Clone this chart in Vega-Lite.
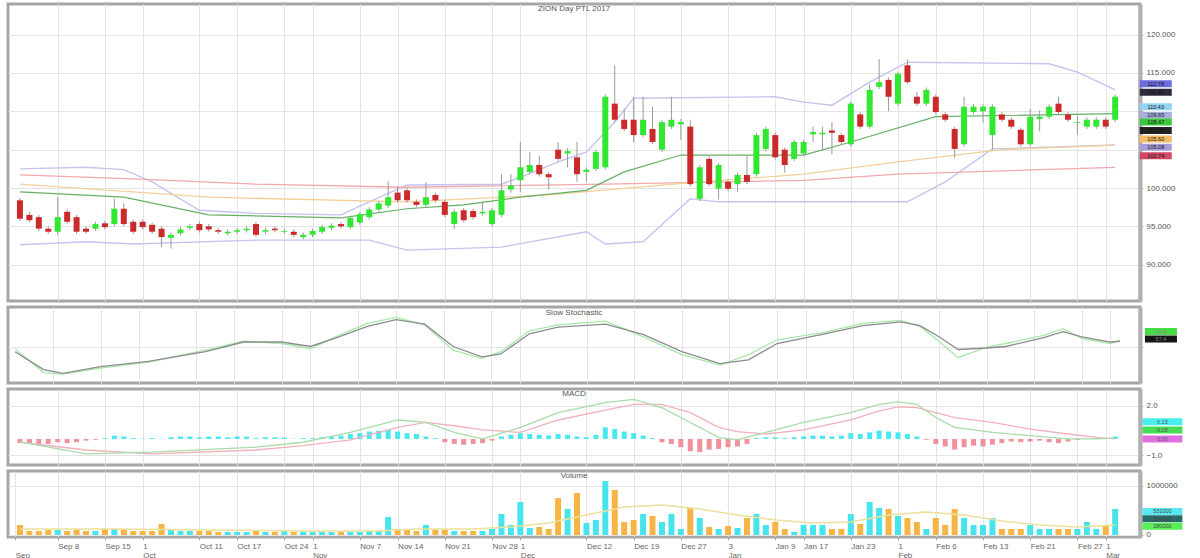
{
"$schema":"https://vega.github.io/schema/vega-lite/v6.json",
"padding":{"left":6,"top":2,"right":2,"bottom":0},
"background":"white",
"spacing":6,
"bounds":"flush",
"resolve":{"scale":{"color":"independent"}},
"config":{"font":"Liberation Sans","view":{"stroke":"#a6a6a6","strokeWidth":3}},
"datasets":{
"k":[
{"i":0,"o":98.4,"h":98.7,"l":95.7,"c":96.0,"v":204000,"mh":-0.25},
{"i":1,"o":96.5,"h":96.9,"l":95.5,"c":95.8,"v":82000,"mh":-0.3},
{"i":2,"o":96.2,"h":96.5,"l":94.4,"c":94.7,"v":82000,"mh":-0.3},
{"i":3,"o":94.7,"h":95.0,"l":94.0,"c":94.3,"v":102000,"mh":-0.3},
{"i":4,"o":94.3,"h":98.8,"l":93.9,"c":96.2,"v":102000,"mh":-0.2},
{"i":5,"o":96.9,"h":97.2,"l":95.3,"c":95.6,"v":82000,"mh":-0.25},
{"i":6,"o":96.2,"h":96.5,"l":94.0,"c":94.3,"v":102000,"mh":-0.2},
{"i":7,"o":94.7,"h":95.0,"l":94.0,"c":94.3,"v":82000,"mh":-0.1},
{"i":8,"o":94.7,"h":95.6,"l":94.4,"c":95.3,"v":82000,"mh":-0.05},
{"i":9,"o":95.4,"h":95.7,"l":94.6,"c":94.9,"v":122000,"mh":0.05},
{"i":10,"o":95.3,"h":98.6,"l":95.0,"c":97.3,"v":122000,"mh":0.2},
{"i":11,"o":97.3,"h":98.0,"l":95.0,"c":95.3,"v":102000,"mh":0.15},
{"i":12,"o":95.6,"h":95.9,"l":94.0,"c":94.3,"v":82000,"mh":0.05},
{"i":13,"o":95.6,"h":95.9,"l":94.6,"c":94.9,"v":82000,"mh":0.02},
{"i":14,"o":95.2,"h":95.5,"l":94.0,"c":94.3,"v":82000,"mh":0.05},
{"i":15,"o":94.7,"h":95.0,"l":92.3,"c":93.6,"v":224000,"mh":0.02},
{"i":16,"o":93.5,"h":94.2,"l":92.1,"c":93.9,"v":102000,"mh":0.1},
{"i":17,"o":94.1,"h":94.9,"l":93.8,"c":94.6,"v":82000,"mh":0.15},
{"i":18,"o":94.8,"h":95.3,"l":94.5,"c":95.0,"v":82000,"mh":0.15},
{"i":19,"o":95.3,"h":95.6,"l":94.2,"c":94.5,"v":82000,"mh":0.1},
{"i":20,"o":95.0,"h":95.3,"l":94.3,"c":94.6,"v":82000,"mh":0.15},
{"i":21,"o":94.5,"h":94.8,"l":94.0,"c":94.3,"v":61000,"mh":0.15},
{"i":22,"o":94.1,"h":94.6,"l":93.8,"c":94.3,"v":61000,"mh":0.1},
{"i":23,"o":94.3,"h":94.8,"l":94.0,"c":94.5,"v":61000,"mh":0.15},
{"i":24,"o":94.5,"h":95.0,"l":94.2,"c":94.7,"v":61000,"mh":0.15},
{"i":25,"o":95.3,"h":95.6,"l":93.6,"c":93.9,"v":82000,"mh":0.05},
{"i":26,"o":94.3,"h":94.8,"l":94.0,"c":94.5,"v":61000,"mh":0.1},
{"i":27,"o":94.7,"h":95.0,"l":94.2,"c":94.5,"v":61000,"mh":0.1},
{"i":28,"o":94.3,"h":94.7,"l":94.0,"c":94.4,"v":102000,"mh":0.08},
{"i":29,"o":94.3,"h":94.6,"l":93.6,"c":93.9,"v":61000,"mh":0.02},
{"i":30,"o":93.6,"h":94.2,"l":93.3,"c":93.9,"v":61000,"mh":0.05},
{"i":31,"o":93.9,"h":94.7,"l":93.6,"c":94.4,"v":61000,"mh":0.05},
{"i":32,"o":94.3,"h":95.2,"l":94.0,"c":94.9,"v":61000,"mh":0.1},
{"i":33,"o":94.8,"h":95.4,"l":94.5,"c":95.1,"v":61000,"mh":0.15},
{"i":34,"o":95.3,"h":95.6,"l":94.7,"c":95.0,"v":61000,"mh":0.2},
{"i":35,"o":94.9,"h":96.4,"l":94.6,"c":96.1,"v":61000,"mh":0.3},
{"i":36,"o":95.5,"h":96.9,"l":95.2,"c":96.6,"v":61000,"mh":0.35},
{"i":37,"o":96.2,"h":97.5,"l":95.9,"c":97.2,"v":82000,"mh":0.45},
{"i":38,"o":97.2,"h":98.3,"l":96.9,"c":98.0,"v":82000,"mh":0.5},
{"i":39,"o":97.7,"h":100.9,"l":97.4,"c":98.8,"v":367000,"mh":0.55},
{"i":40,"o":99.4,"h":100.2,"l":98.1,"c":98.4,"v":122000,"mh":0.45},
{"i":41,"o":99.7,"h":100.0,"l":98.1,"c":98.4,"v":122000,"mh":0.35},
{"i":42,"o":98.2,"h":98.5,"l":97.5,"c":97.8,"v":82000,"mh":0.3},
{"i":43,"o":97.8,"h":100.8,"l":97.5,"c":98.8,"v":204000,"mh":0.15},
{"i":44,"o":99.1,"h":99.4,"l":98.1,"c":98.4,"v":102000,"mh":0.05},
{"i":45,"o":98.2,"h":98.5,"l":96.2,"c":96.5,"v":102000,"mh":-0.2},
{"i":46,"o":95.3,"h":97.2,"l":94.6,"c":96.9,"v":82000,"mh":-0.3},
{"i":47,"o":97.1,"h":97.4,"l":95.5,"c":95.8,"v":82000,"mh":-0.35},
{"i":48,"o":97.0,"h":97.3,"l":95.9,"c":96.2,"v":82000,"mh":-0.3},
{"i":49,"o":96.7,"h":98.2,"l":96.4,"c":96.9,"v":82000,"mh":-0.25},
{"i":50,"o":95.3,"h":97.4,"l":95.0,"c":97.1,"v":122000,"mh":-0.1},
{"i":51,"o":96.5,"h":101.8,"l":96.2,"c":99.7,"v":429000,"mh":0.15},
{"i":52,"o":99.8,"h":101.8,"l":99.4,"c":100.3,"v":204000,"mh":0.25},
{"i":53,"o":101.0,"h":106.0,"l":99.5,"c":102.7,"v":673000,"mh":0.35},
{"i":54,"o":102.1,"h":104.7,"l":101.8,"c":103.0,"v":143000,"mh":0.3},
{"i":55,"o":103.0,"h":104.2,"l":101.5,"c":101.8,"v":163000,"mh":0.25},
{"i":56,"o":101.8,"h":102.1,"l":99.8,"c":101.4,"v":122000,"mh":0.2},
{"i":57,"o":105.0,"h":106.0,"l":103.5,"c":103.8,"v":755000,"mh":0.3},
{"i":58,"o":104.5,"h":105.2,"l":102.7,"c":104.8,"v":531000,"mh":0.25},
{"i":59,"o":104.0,"h":106.0,"l":100.8,"c":101.8,"v":857000,"mh":0.15},
{"i":60,"o":102.1,"h":102.7,"l":100.8,"c":102.4,"v":245000,"mh":0.1},
{"i":61,"o":102.5,"h":105.0,"l":102.2,"c":104.7,"v":306000,"mh":0.25},
{"i":62,"o":102.7,"h":112.2,"l":102.4,"c":111.9,"v":1100000,"mh":0.7},
{"i":63,"o":111.0,"h":116.0,"l":108.6,"c":108.9,"v":918000,"mh":0.6},
{"i":64,"o":108.9,"h":110.3,"l":107.4,"c":107.7,"v":265000,"mh":0.45},
{"i":65,"o":108.9,"h":111.9,"l":106.0,"c":106.9,"v":306000,"mh":0.35},
{"i":66,"o":106.9,"h":111.9,"l":106.6,"c":108.9,"v":429000,"mh":0.2},
{"i":67,"o":107.7,"h":110.6,"l":105.7,"c":106.0,"v":388000,"mh":0.05},
{"i":68,"o":105.0,"h":108.9,"l":104.7,"c":108.6,"v":265000,"mh":-0.2},
{"i":69,"o":108.0,"h":111.9,"l":107.7,"c":108.9,"v":429000,"mh":-0.3},
{"i":70,"o":108.3,"h":109.0,"l":106.3,"c":108.6,"v":122000,"mh":-0.5},
{"i":71,"o":108.0,"h":108.9,"l":100.2,"c":100.5,"v":551000,"mh":-0.75},
{"i":72,"o":98.6,"h":103.0,"l":98.3,"c":102.7,"v":347000,"mh":-0.8},
{"i":73,"o":103.8,"h":104.2,"l":100.2,"c":100.5,"v":163000,"mh":-0.65},
{"i":74,"o":99.9,"h":103.3,"l":98.5,"c":103.0,"v":122000,"mh":-0.6},
{"i":75,"o":100.8,"h":101.1,"l":99.6,"c":99.9,"v":184000,"mh":-0.5},
{"i":76,"o":100.5,"h":102.0,"l":99.5,"c":101.7,"v":143000,"mh":-0.45},
{"i":77,"o":101.7,"h":104.2,"l":100.5,"c":100.8,"v":347000,"mh":-0.3},
{"i":78,"o":101.8,"h":107.2,"l":101.5,"c":106.9,"v":429000,"mh":0.05},
{"i":79,"o":105.1,"h":108.0,"l":104.8,"c":107.7,"v":204000,"mh":0.1},
{"i":80,"o":106.9,"h":107.2,"l":103.7,"c":104.0,"v":265000,"mh":0.1},
{"i":81,"o":105.0,"h":105.3,"l":102.0,"c":103.0,"v":122000,"mh":0.05},
{"i":82,"o":103.8,"h":106.3,"l":103.5,"c":106.0,"v":61000,"mh":0.1},
{"i":83,"o":104.5,"h":106.3,"l":104.2,"c":106.0,"v":204000,"mh":0.15},
{"i":84,"o":107.0,"h":108.0,"l":106.0,"c":107.3,"v":204000,"mh":0.2},
{"i":85,"o":107.0,"h":108.0,"l":105.0,"c":107.2,"v":204000,"mh":0.2},
{"i":86,"o":107.5,"h":108.6,"l":104.4,"c":107.2,"v":122000,"mh":0.15},
{"i":87,"o":106.9,"h":107.2,"l":105.7,"c":106.0,"v":122000,"mh":0.2},
{"i":88,"o":105.7,"h":111.3,"l":105.4,"c":111.0,"v":429000,"mh":0.35},
{"i":89,"o":109.6,"h":109.9,"l":107.7,"c":108.0,"v":224000,"mh":0.3},
{"i":90,"o":108.0,"h":113.5,"l":107.7,"c":112.8,"v":673000,"mh":0.4},
{"i":91,"o":113.2,"h":116.8,"l":112.9,"c":113.8,"v":551000,"mh":0.5},
{"i":92,"o":114.1,"h":114.4,"l":110.0,"c":111.9,"v":531000,"mh":0.45},
{"i":93,"o":111.0,"h":115.2,"l":110.7,"c":114.9,"v":388000,"mh":0.4},
{"i":94,"o":116.0,"h":116.8,"l":113.5,"c":113.8,"v":347000,"mh":0.3},
{"i":95,"o":111.9,"h":112.5,"l":110.7,"c":111.0,"v":265000,"mh":0.15},
{"i":96,"o":111.0,"h":113.1,"l":110.7,"c":112.8,"v":122000,"mh":-0.05},
{"i":97,"o":111.9,"h":112.2,"l":109.6,"c":109.9,"v":347000,"mh":-0.3},
{"i":98,"o":109.6,"h":109.9,"l":108.6,"c":108.9,"v":204000,"mh":-0.45},
{"i":99,"o":107.7,"h":108.0,"l":103.9,"c":105.1,"v":531000,"mh":-0.65},
{"i":100,"o":105.7,"h":111.9,"l":105.4,"c":110.6,"v":347000,"mh":-0.5},
{"i":101,"o":109.9,"h":110.9,"l":109.6,"c":110.6,"v":204000,"mh":-0.4},
{"i":102,"o":110.0,"h":110.9,"l":108.5,"c":110.6,"v":204000,"mh":-0.45},
{"i":103,"o":106.9,"h":110.9,"l":105.0,"c":110.6,"v":347000,"mh":-0.35},
{"i":104,"o":109.6,"h":109.9,"l":108.6,"c":108.9,"v":122000,"mh":-0.25},
{"i":105,"o":108.9,"h":109.2,"l":107.7,"c":108.0,"v":122000,"mh":-0.15},
{"i":106,"o":107.6,"h":107.9,"l":105.4,"c":105.7,"v":122000,"mh":-0.2},
{"i":107,"o":105.7,"h":110.3,"l":105.4,"c":109.3,"v":204000,"mh":-0.15},
{"i":108,"o":109.0,"h":110.1,"l":107.4,"c":109.3,"v":122000,"mh":-0.1},
{"i":109,"o":109.3,"h":110.9,"l":109.0,"c":110.6,"v":122000,"mh":-0.2},
{"i":110,"o":111.0,"h":111.9,"l":109.6,"c":109.9,"v":122000,"mh":-0.25},
{"i":111,"o":109.6,"h":109.9,"l":108.6,"c":108.9,"v":122000,"mh":-0.15},
{"i":112,"o":108.5,"h":109.4,"l":106.9,"c":108.6,"v":122000,"mh":-0.05},
{"i":113,"o":108.0,"h":109.2,"l":107.7,"c":108.9,"v":265000,"mh":0.02},
{"i":114,"o":108.0,"h":109.2,"l":107.7,"c":108.9,"v":122000,"mh":0.03},
{"i":115,"o":108.9,"h":109.2,"l":107.7,"c":108.0,"v":204000,"mh":0.02},
{"i":116,"o":108.9,"h":112.2,"l":108.6,"c":111.9,"v":531000,"mh":0.15}
],
"bu":[{"i":0,"v":102.5},{"i":7,"v":102.7},{"i":11,"v":102.4},{"i":14,"v":100.8},{"i":19,"v":97.1},{"i":25,"v":96.7},{"i":34,"v":96.5},{"i":37,"v":98.2},{"i":41,"v":100.4},{"i":51,"v":100.5},{"i":53,"v":101.4},{"i":57,"v":103.4},{"i":60,"v":104.7},{"i":63,"v":108.6},{"i":65,"v":111.7},{"i":80,"v":111.9},{"i":83,"v":111.2},{"i":86,"v":110.8},{"i":90,"v":113.8},{"i":94,"v":116.4},{"i":109,"v":116.2},{"i":112,"v":115.1},{"i":116,"v":112.8}],
"bl":[{"i":0,"v":92.6},{"i":7,"v":93.0},{"i":12,"v":92.7},{"i":25,"v":93.2},{"i":37,"v":93.2},{"i":41,"v":91.9},{"i":51,"v":92.3},{"i":60,"v":94.3},{"i":62,"v":92.7},{"i":66,"v":93.0},{"i":71,"v":98.6},{"i":74,"v":98.2},{"i":83,"v":98.2},{"i":94,"v":98.2},{"i":98,"v":100.8},{"i":103,"v":105.1},{"i":116,"v":105.6}],
"m20":[{"i":0,"v":99.5},{"i":11,"v":98.8},{"i":20,"v":96.5},{"i":34,"v":96.1},{"i":41,"v":97.3},{"i":47,"v":97.8},{"i":53,"v":98.8},{"i":60,"v":99.7},{"i":64,"v":102.1},{"i":70,"v":104.3},{"i":83,"v":104.3},{"i":88,"v":106.0},{"i":97,"v":109.3},{"i":116,"v":109.7}],
"m50":[{"i":0,"v":100.5},{"i":20,"v":98.8},{"i":41,"v":98.2},{"i":56,"v":99.1},{"i":72,"v":100.8},{"i":83,"v":101.8},{"i":93,"v":103.4},{"i":104,"v":105.0},{"i":116,"v":105.6}],
"m200":[{"i":0,"v":101.7},{"i":12,"v":101.2},{"i":25,"v":100.5},{"i":41,"v":100.1},{"i":62,"v":100.5},{"i":83,"v":101.0},{"i":93,"v":101.8},{"i":116,"v":102.7}],
"st":[{"i":0,"k":44,"d":48},{"i":3,"k":20,"d":16},{"i":5,"k":15,"d":14},{"i":9,"k":24,"d":22},{"i":14,"k":31,"d":30},{"i":20,"k":44,"d":46},{"i":24,"k":57,"d":58},{"i":28,"k":57,"d":55},{"i":31,"k":51,"d":48},{"i":34,"k":64,"d":66},{"i":37,"k":78,"d":82},{"i":40,"k":87,"d":90},{"i":43,"k":81,"d":80},{"i":46,"k":51,"d":46},{"i":49,"k":37,"d":35},{"i":51,"k":41,"d":44},{"i":54,"k":68,"d":72},{"i":57,"k":77,"d":80},{"i":62,"k":81,"d":85},{"i":66,"k":67,"d":64},{"i":70,"k":44,"d":40},{"i":74,"k":28,"d":26},{"i":77,"k":33,"d":40},{"i":80,"k":55,"d":60},{"i":85,"k":68,"d":70},{"i":89,"k":79,"d":82},{"i":93,"k":84,"d":86},{"i":95,"k":79,"d":78},{"i":97,"k":64,"d":58},{"i":99,"k":47,"d":36},{"i":102,"k":49,"d":50},{"i":104,"k":51,"d":55},{"i":108,"k":63,"d":66},{"i":110,"k":71,"d":75},{"i":112,"k":64,"d":62},{"i":115,"k":57,"d":55},{"i":116,"k":58,"d":60}],
"md":[{"i":0,"m":-0.18,"s":-0.2},{"i":7,"m":-0.9,"s":-0.67},{"i":14,"m":-0.8,"s":-0.9},{"i":25,"m":-0.5,"s":-0.67},{"i":30,"m":-0.2,"s":-0.4},{"i":35,"m":0.4,"s":-0.06},{"i":40,"m":1.15,"s":0.7},{"i":43,"m":1.0,"s":1.0},{"i":46,"m":0.4,"s":0.8},{"i":49,"m":0.0,"s":0.55},{"i":53,"m":0.7,"s":0.4},{"i":57,"m":1.6,"s":1.15},{"i":62,"m":2.2,"s":1.75},{"i":65,"m":2.4,"s":2.1},{"i":68,"m":1.9,"s":2.1},{"i":71,"m":1.0,"s":1.6},{"i":74,"m":0.1,"s":0.7},{"i":76,"m":-0.05,"s":0.45},{"i":79,"m":0.4,"s":0.3},{"i":83,"m":1.0,"s":0.55},{"i":88,"m":1.6,"s":1.15},{"i":91,"m":2.1,"s":1.7},{"i":93,"m":2.25,"s":1.95},{"i":95,"m":2.1,"s":1.9},{"i":97,"m":1.3,"s":1.6},{"i":99,"m":0.7,"s":1.3},{"i":103,"m":0.4,"s":1.0},{"i":107,"m":0.2,"s":0.6},{"i":111,"m":0.0,"s":0.3},{"i":114,"m":0.0,"s":0.1},{"i":116,"m":0.05,"s":0.0}],
"vm":[{"i":0,"v":122000},{"i":10,"v":122000},{"i":20,"v":102000},{"i":30,"v":82000},{"i":38,"v":82000},{"i":42,"v":122000},{"i":48,"v":122000},{"i":52,"v":163000},{"i":56,"v":245000},{"i":60,"v":408000},{"i":64,"v":571000},{"i":68,"v":612000},{"i":72,"v":531000},{"i":76,"v":408000},{"i":80,"v":306000},{"i":84,"v":245000},{"i":88,"v":265000},{"i":92,"v":408000},{"i":96,"v":469000},{"i":100,"v":408000},{"i":104,"v":286000},{"i":108,"v":204000},{"i":112,"v":163000},{"i":116,"v":204000}],
"tm":[{"n":"BB upper","v":113.6,"t":"112.78"},{"n":"Close","v":112.5,"t":"111.90"},{"n":"MA 5","v":110.6,"t":"110.43"},{"n":"MA 10","v":109.5,"t":"109.65"},{"n":"MA 20","v":108.6,"t":"108.47"},{"n":"BB mid","v":107.5,"t":"107.60"},{"n":"MA 50","v":106.4,"t":"105.60"},{"n":"MA 100","v":105.3,"t":"105.08"},{"n":"MA 200","v":104.2,"t":"102.74"}],
"ts":[{"n":"%D","v":71,"t":"59.8"},{"n":"%K","v":61,"t":"57.4"}],
"tmd":[{"n":"Hist","v":1.05,"t":"0.15"},{"n":"MACD","v":0.55,"t":"0.05"},{"n":"Signal","v":0.0,"t":"0.00"}],
"tv":[{"n":"Vol","v":480000,"t":"531000"},{"n":"MA","v":330000,"t":"204000"},{"n":"MA2","v":180000,"t":"180000"}]
},
"vconcat":[
{
"width":1132,"height":297,
"title":{"text":"ZION  Day  PTL  2017","fontSize":8,"fontWeight":"normal","color":"#555555","offset":-9,"anchor":"middle"},
"layer":[
{"data":{"name":"bu"},"mark":{"type":"line","color":"#c4c4ee","strokeWidth":1.4},
 "encoding":{
  "x":{"field":"i","type":"quantitative","scale":{"domain":[-0.735,118.1],"nice":false,"zero":false},
   "axis":{"values":[4,9,13,19,23,28,31,36,40,45,50,53,60,65,70,75,80,83,88,93,97,102,107,112,115],"labels":false,"ticks":false,"domain":false,"grid":true,"gridColor":"#e4e4e4","title":null}},
  "y":{"field":"v","type":"quantitative","scale":{"domain":[85.27,123.99],"nice":false,"zero":false},
   "axis":{"orient":"right","values":[90,95,100,105,110,115,120],"labelExpr":"datum.value == 105 || datum.value == 110 ? '' : format(datum.value, '.3f')","labelFontSize":8,"labelColor":"#555555","domainColor":"#b0b0b0","domainWidth":4,"tickColor":"#b0b0b0","tickSize":3,"grid":true,"gridColor":"#e4e4e4","title":null,"labelPadding":3}}}},
{"data":{"name":"bl"},"mark":{"type":"line","color":"#c4c4ee","strokeWidth":1.4},
 "encoding":{"x":{"field":"i","type":"quantitative"},"y":{"field":"v","type":"quantitative"}}},
{"data":{"name":"m200"},"mark":{"type":"line","color":"#f2a8ac","strokeWidth":1.3},
 "encoding":{"x":{"field":"i","type":"quantitative"},"y":{"field":"v","type":"quantitative"}}},
{"data":{"name":"m50"},"mark":{"type":"line","color":"#f5cf98","strokeWidth":1.3},
 "encoding":{"x":{"field":"i","type":"quantitative"},"y":{"field":"v","type":"quantitative"}}},
{"data":{"name":"m20"},"mark":{"type":"line","color":"#66b066","strokeWidth":1.2},
 "encoding":{"x":{"field":"i","type":"quantitative"},"y":{"field":"v","type":"quantitative"}}},
{"data":{"name":"k"},"mark":{"type":"rule","color":"#9a9a9a","strokeWidth":1},
 "encoding":{"x":{"field":"i","type":"quantitative"},"y":{"field":"l","type":"quantitative"},"y2":{"field":"h"}}},
{"data":{"name":"k"},"mark":{"type":"bar","size":6},
 "encoding":{"x":{"field":"i","type":"quantitative"},"y":{"field":"o","type":"quantitative"},"y2":{"field":"c"},
  "color":{"condition":{"test":"datum.c >= datum.o","value":"#30e830"},"value":"#cc2a2a"}}},
{"data":{"name":"tm"},"mark":{"type":"tick","orient":"horizontal","size":32,"thickness":7,"opacity":1},
 "encoding":{"x":{"datum":120.3,"type":"quantitative"},"y":{"field":"v","type":"quantitative"},
  "color":{"field":"n","type":"nominal","legend":null,"scale":{"domain":["BB upper","Close","MA 5","MA 10","MA 20","BB mid","MA 50","MA 100","MA 200"],"range":["#6c6cdc","#2c2c3c","#92d4f4","#a6aede","#3cc83c","#222222","#f4bc64","#a89cdc","#d04a68"]}}}},
{"data":{"name":"tm"},"mark":{"type":"text","fontSize":5.5,"color":"#111111"},
 "encoding":{"x":{"datum":120.3,"type":"quantitative"},"y":{"field":"v","type":"quantitative"},"text":{"field":"t"}}}
]
},
{
"width":1132,"height":76,
"title":{"text":"Slow  Stochastic","fontSize":8,"fontWeight":"normal","color":"#555555","offset":-10,"anchor":"middle"},
"layer":[
{"data":{"name":"st"},"mark":{"type":"line","color":"#a8e8a8","strokeWidth":1.3},
 "encoding":{
  "x":{"field":"i","type":"quantitative","scale":{"domain":[-0.735,118.1],"nice":false,"zero":false},
   "axis":{"values":[4,9,13,19,23,28,31,36,40,45,50,53,60,65,70,75,80,83,88,93,97,102,107,112,115],"labels":false,"ticks":false,"domain":false,"grid":true,"gridColor":"#e4e4e4","title":null}},
  "y":{"field":"d","type":"quantitative","scale":{"domain":[2,104],"nice":false,"zero":false},
   "axis":{"orient":"right","values":[50],"labels":false,"domainColor":"#b0b0b0","domainWidth":4,"tickColor":"#b0b0b0","tickSize":3,"grid":true,"gridColor":"#e4e4e4","title":null}}}},
{"data":{"name":"st"},"mark":{"type":"line","color":"#8c8c8c","strokeWidth":1.3},
 "encoding":{"x":{"field":"i","type":"quantitative"},"y":{"field":"k","type":"quantitative"}}},
{"data":{"name":"ts"},"mark":{"type":"tick","orient":"horizontal","size":32,"thickness":7,"opacity":1},
 "encoding":{"x":{"datum":120.3,"type":"quantitative"},"y":{"field":"v","type":"quantitative"},
  "color":{"field":"n","type":"nominal","legend":null,"scale":{"domain":["%D","%K"],"range":["#44dd44","#151515"]}}}},
{"data":{"name":"ts"},"mark":{"type":"text","fontSize":5.5,"color":"#888888"},
 "encoding":{"x":{"datum":120.3,"type":"quantitative"},"y":{"field":"v","type":"quantitative"},"text":{"field":"t"}}}
]
},
{
"width":1132,"height":76,
"title":{"text":"MACD","fontSize":8,"fontWeight":"normal","color":"#555555","offset":-9,"anchor":"middle"},
"layer":[
{"data":{"name":"k"},"mark":{"type":"bar","size":5},
 "encoding":{
  "x":{"field":"i","type":"quantitative","scale":{"domain":[-0.735,118.1],"nice":false,"zero":false},
   "axis":{"values":[4,9,13,19,23,28,31,36,40,45,50,53,60,65,70,75,80,83,88,93,97,102,107,112,115],"labels":false,"ticks":false,"domain":false,"grid":true,"gridColor":"#e4e4e4","title":null}},
  "y":{"field":"mh","type":"quantitative","scale":{"domain":[-1.58,3.03],"nice":false,"zero":false},
   "axis":{"orient":"right","values":[-1,2],"format":".1f","labelFontSize":8,"labelColor":"#555555","domainColor":"#b0b0b0","domainWidth":4,"tickColor":"#b0b0b0","tickSize":3,"grid":true,"gridColor":"#e4e4e4","title":null,"labelPadding":3}},
  "y2":{"datum":0},
  "color":{"condition":{"test":"datum.mh >= 0","value":"#48e8f0"},"value":"#f0909c"}}},
{"data":{"name":"md"},"mark":{"type":"line","color":"#f2b0bc","strokeWidth":1.3},
 "encoding":{"x":{"field":"i","type":"quantitative"},"y":{"field":"s","type":"quantitative"}}},
{"data":{"name":"md"},"mark":{"type":"line","color":"#a8dca8","strokeWidth":1.3},
 "encoding":{"x":{"field":"i","type":"quantitative"},"y":{"field":"m","type":"quantitative"}}},
{"data":{"name":"tmd"},"mark":{"type":"tick","orient":"horizontal","size":40,"thickness":7,"opacity":1},
 "encoding":{"x":{"datum":121,"type":"quantitative"},"y":{"field":"v","type":"quantitative"},
  "color":{"field":"n","type":"nominal","legend":null,"scale":{"domain":["Hist","MACD","Signal"],"range":["#48eeee","#44dd55","#e070e0"]}}}},
{"data":{"name":"tmd"},"mark":{"type":"text","fontSize":5.5,"color":"#555555"},
 "encoding":{"x":{"datum":121,"type":"quantitative"},"y":{"field":"v","type":"quantitative"},"text":{"field":"t"}}}
]
},
{
"width":1132,"height":66,
"title":{"text":"Volume","fontSize":8,"fontWeight":"normal","color":"#555555","offset":-9,"anchor":"middle"},
"layer":[
{"data":{"name":"k"},"mark":{"type":"bar","size":6},
 "encoding":{
  "x":{"field":"i","type":"quantitative","scale":{"domain":[-0.735,118.1],"nice":false,"zero":false},
   "axis":{"values":[-0.5,4,9,13,19,23,28,31,36,40,45,50,53,60,65,70,75,80,83,88,93,97,102,107,112,115],"grid":true,"gridColor":"#e4e4e4","title":null,"domainColor":"#a8a8a8","tickColor":"#a8a8a8","tickSize":3,"labelAlign":"left","labelFontSize":8,"labelColor":"#666666","labelOverlap":false,"labelFlush":false,"labelBound":false,"labelPadding":2,"labelLineHeight":9,
    "labelExpr":"{'-0.5':['','Sep'],'4':'Sep 8','9':'Sep 15','13':['1','Oct'],'19':'Oct 11','23':'Oct 17','28':'Oct 24','31':['1','Nov'],'36':'Nov 7','40':'Nov 14','45':'Nov 21','50':'Nov 28','53':['1','Dec'],'60':'Dec 12','65':'Dec 19','70':'Dec 27','75':['3','Jan'],'80':'Jan 9','83':'Jan 17','88':'Jan 23','93':['1','Feb'],'97':'Feb 6','102':'Feb 13','107':'Feb 21','112':'Feb 27','115':['1','Mar']}[datum.value]"}},
  "y":{"field":"v","type":"quantitative","scale":{"domain":[-41000,1306000],"nice":false,"zero":false},
   "axis":{"orient":"right","values":[0,1000000],"format":"d","labelFontSize":8,"labelColor":"#555555","domainColor":"#b0b0b0","domainWidth":4,"tickColor":"#b0b0b0","tickSize":3,"grid":true,"gridColor":"#e4e4e4","title":null,"labelPadding":3}},
  "y2":{"datum":0},
  "color":{"condition":{"test":"datum.c >= datum.o","value":"#48e4ee"},"value":"#f5b444"}}},
{"data":{"name":"vm"},"mark":{"type":"line","color":"#ece09a","strokeWidth":1.4},
 "encoding":{"x":{"field":"i","type":"quantitative"},"y":{"field":"v","type":"quantitative"}}},
{"data":{"name":"tv"},"mark":{"type":"tick","orient":"horizontal","size":40,"thickness":7,"opacity":1},
 "encoding":{"x":{"datum":121,"type":"quantitative"},"y":{"field":"v","type":"quantitative"},
  "color":{"field":"n","type":"nominal","legend":null,"scale":{"domain":["Vol","MA","MA2"],"range":["#58e8f0","#2a6a6a","#58ee58"]}}}},
{"data":{"name":"tv"},"mark":{"type":"text","fontSize":5.5,"color":"#444444"},
 "encoding":{"x":{"datum":121,"type":"quantitative"},"y":{"field":"v","type":"quantitative"},"text":{"field":"t"}}}
]
}
]
}
